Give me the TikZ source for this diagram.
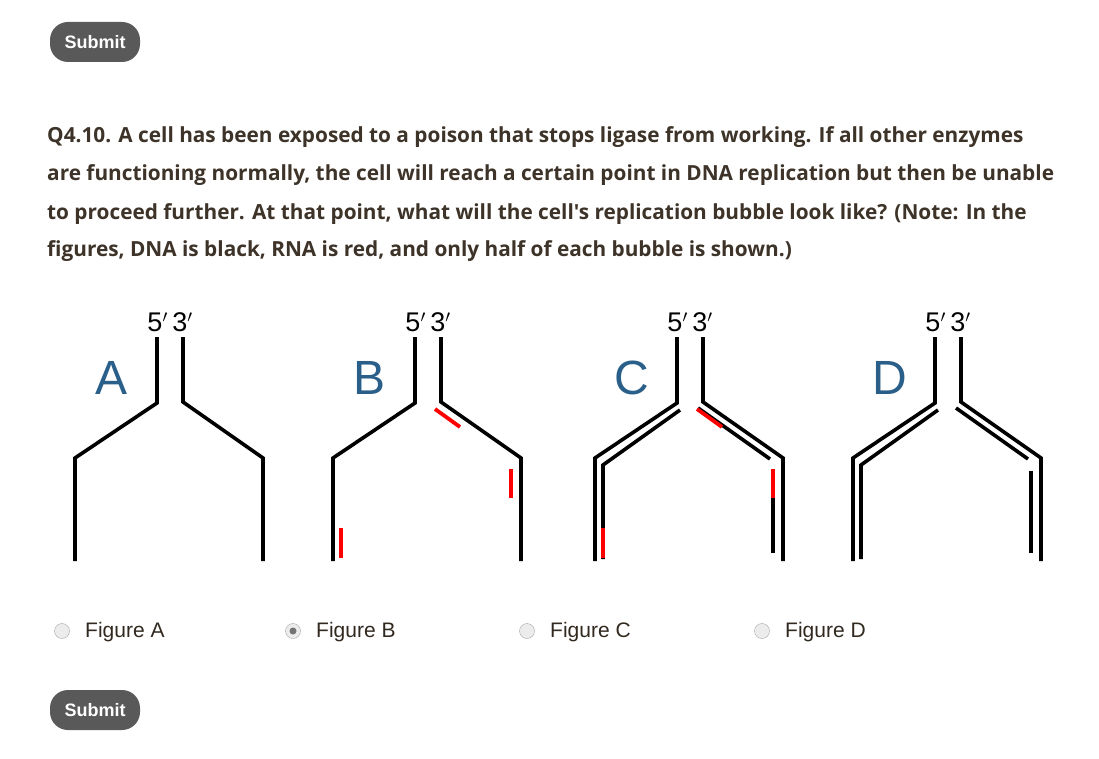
\documentclass[tikz,border=0pt]{standalone}
\usepackage{fontspec}
\setmainfont{Liberation Sans}
\newfontfamily\qfont{Open Sans}
\definecolor{qtxt}{HTML}{3D3328}
\definecolor{lblue}{HTML}{2A5F8A}
\definecolor{btn}{HTML}{595959}
\begin{document}
\begin{tikzpicture}[x=1pt,y=-1pt,
  strand/.style={line width=3.6pt,line join=miter},
  rna/.style={line width=3.8pt,red},
  btnbox/.style={fill=btn,rounded corners=18pt,minimum width=90pt,minimum height=40pt,text=white,font=\fontsize{18}{20}\selectfont\bfseries,inner sep=0pt},
  qline/.style={anchor=base west,font=\qfont\bfseries\fontsize{20.8}{24}\selectfont,text=qtxt,inner sep=0pt},
  radio/.style={circle,draw=gray!70,fill=gray!15,minimum size=15pt,inner sep=0pt},
  flab/.style={anchor=west,font=\fontsize{21}{24}\selectfont,text=qtxt!80!black,inner sep=0pt},
  primes/.style={font=\fontsize{27}{30}\selectfont,inner sep=0pt},
  big/.style={font=\fontsize{48}{52}\selectfont,text=lblue,inner sep=0pt}]
\useasboundingbox (0,0) rectangle (1099,759);
\fill[white] (0,0) rectangle (1099,759);
\node[btnbox] (s1) at (95,42) {Submit};
\node[btnbox] (s2) at (95,710) {Submit};
\node[qline] (q1) at (47,143) {Q4.10. A cell has been exposed to a poison that stops ligase from working. If all other enzymes};
\node[qline] (q2) at (47,181) {are functioning normally, the cell will reach a certain point in DNA replication but then be unable};
\node[qline] (q3) at (47,219) {to proceed further. At that point, what will the cell's replication bubble look like? (Note: In the};
\node[qline] (q4) at (47,256) {figures, DNA is black, RNA is red, and only half of each bubble is shown.)};
\foreach \ox/\L in {157/A,415/B,677/C,935/D}{
  \node[primes] (p\L) at (\ox+13,322) {5$'$\,3$'$};
  \node[big] (l\L) at (\ox-45,378) {\L};
  \draw[strand] (\ox,337) -- (\ox,403) -- (\ox-82,458) -- (\ox-82,561);
  \draw[strand] (\ox+26,337) -- (\ox+26,402) -- (\ox+106,458) -- (\ox+106,561);
}
% inner strands C and D
\foreach \ox in {677,935}{
  \draw[strand] (\ox+3,410) -- (\ox-74,465) -- (\ox-74,559);
  \draw[strand] (\ox+21,408) -- (\ox+93,459);
  \draw[strand] (\ox+96,471) -- (\ox+96,553);
}
% RNA primers B and C
\foreach \ox in {415,677}{
  \draw[rna] (\ox+20,409) -- (\ox+45,427);
  \draw[rna] (\ox+96,469) -- (\ox+96,498);
  \draw[rna] (\ox-74,528) -- (\ox-74,558);
}
\foreach \x/\L in {62/A,293/B,527/C,762/D}{
  \node[radio] (r\L) at (\x,631) {};
  \node[flab] (f\L) at (\x+23,632) {Figure \L};
}
\fill[gray!90!black] (rB) circle (3.5pt);
\end{tikzpicture}
\end{document}
